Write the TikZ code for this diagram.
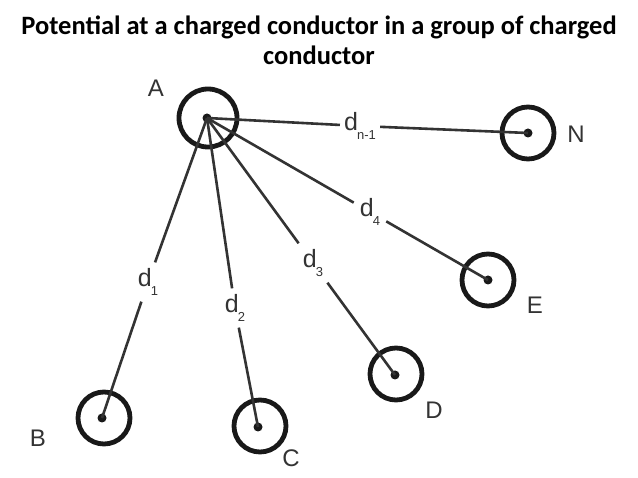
\documentclass[tikz,border=0pt]{standalone}
\usepackage{fontspec}
\setmainfont{Liberation Sans}
\newfontfamily\titlefont{Carlito}
\newcommand{\dlab}[1]{d\kern-1pt\raisebox{-0.35em}{\fontsize{13}{13}\selectfont #1}}
\begin{document}
\begin{tikzpicture}[x=1pt,y=-1pt,
  cond/.style={circle,draw=black!90,line width=4.8pt,minimum size=52pt,inner sep=0pt},
  dotn/.style={circle,fill=black!90,minimum size=9pt,inner sep=0pt},
  conn/.style={draw=black!80,line width=2.6pt},
  dl/.style={font=\fontsize{25}{25}\selectfont,text=black!80,inner sep=6pt},
  cl/.style={font=\fontsize{24}{24}\selectfont,text=black!80,inner sep=0pt},
  ttl/.style={font=\titlefont\bfseries\fontsize{26.5}{30}\selectfont,align=center}]
\useasboundingbox (0,0) rectangle (638,478);
\node[ttl] (title) at (319,40) {Potential at a charged conductor in a group of charged\\conductor};
% dots (conductor centres)
\node[dotn] (a) at (207,118) {};
\node[dotn] (n) at (528,133) {};
\node[dotn] (e) at (488,280) {};
\node[dotn] (d) at (395,375) {};
\node[dotn] (c) at (258,427) {};
\node[dotn] (b) at (102,418) {};
% conductor rings
\node[cond,minimum size=58pt] (A) at (208,118) {};
\node[cond] (N) at (528,133) {};
\node[cond] (E) at (488,280) {};
\node[cond] (D) at (396,374) {};
\node[cond] (C) at (260,426) {};
\node[cond] (B) at (104,418) {};
% distance labels
\node[dl] (l1) at (148,282) {\dlab{1}};
\node[dl] (l2) at (235,308) {\dlab{2}};
\node[dl] (l3) at (313,263) {\dlab{3}};
\node[dl] (l4) at (370,212) {\dlab{4}};
\node[dl,inner sep=4pt] (ln) at (360,126) {\dlab{n-1}};
% connectors
\draw[conn] (a.center) -- (l1) -- (b.center);
\draw[conn] (a.center) -- (l2) -- (c.center);
\draw[conn] (a.center) -- (l3) -- (d.center);
\draw[conn] (a.center) -- (l4) -- (e.center);
\draw[conn] (a.center) -- (ln) -- (n.center);
% conductor names
\node[cl] (tA) at (156,88) {A};
\node[cl] (tN) at (576,134) {N};
\node[cl] (tE) at (535,305) {E};
\node[cl] (tD) at (434,410) {D};
\node[cl] (tC) at (291,458) {C};
\node[cl] (tB) at (38,438) {B};
\end{tikzpicture}
\end{document}
